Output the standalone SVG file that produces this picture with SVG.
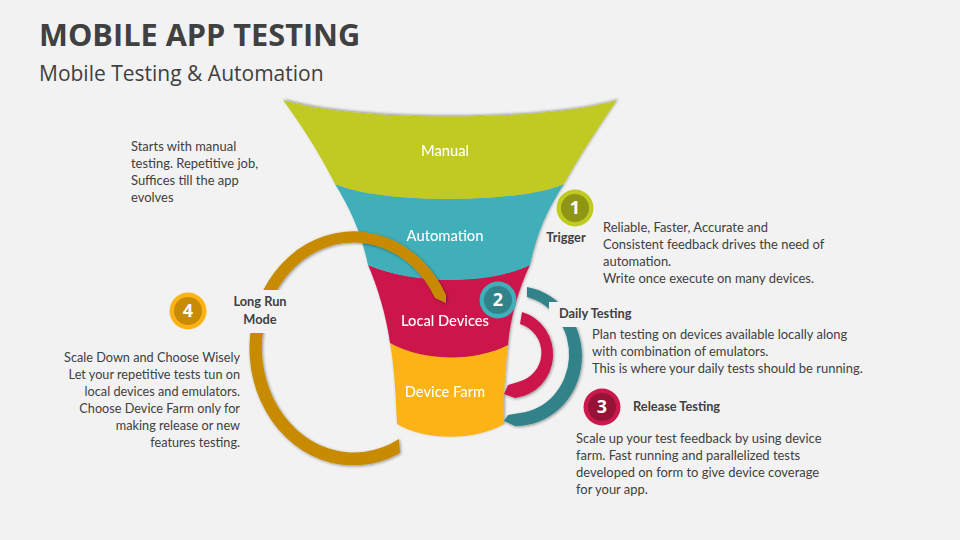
<svg xmlns="http://www.w3.org/2000/svg" width="960" height="540" viewBox="0 0 960 540">
<style>
.t{font-family:"Open Sans","Liberation Sans",sans-serif;fill:#404040}
.b{font-family:Lato,"Liberation Sans",sans-serif;font-size:12.95px;fill:#404040}
.h{font-family:Lato,"Liberation Sans",sans-serif;font-size:12.8px;font-weight:700;fill:#404040}
.f{font-family:Lato,"Liberation Sans",sans-serif;font-size:14.7px;font-weight:500;fill:#fff;text-anchor:middle}
.n{font-family:"Open Sans","Liberation Sans",sans-serif;font-size:18px;font-weight:700;fill:#fff;text-anchor:middle}
.e{text-anchor:end;font-size:12.7px}.m{text-anchor:middle}
</style>
<defs>
<filter id="s" x="-20%" y="-20%" width="140%" height="140%"><feDropShadow dx="1" dy="1" stdDeviation="1.5" flood-color="#000" flood-opacity=".4"/></filter>
<filter id="s2" x="-20%" y="-20%" width="140%" height="140%"><feDropShadow dx="1" dy="-1" stdDeviation="1.5" flood-color="#000" flood-opacity=".4"/></filter>
</defs>
<rect width="960" height="540" fill="#f2f2f2"/>
<text class="t" x="39" y="46" font-size="30.7" font-weight="700">MOBILE APP TESTING</text>
<text class="t" x="39" y="81" font-size="21">Mobile Testing &amp; Automation</text>

<g id="funnel" filter="url(#s2)">
<g id="node-device-farm"><path d="M390,343C425,361 475,361 508,345C505,370 503,400 504,424C475,441 425,441 397,424C396,395 394,365 390,343Z" fill="#fbb316"/><text class="f" x="445" y="397">Device Farm</text></g>
<g id="node-local-devices"><path d="M368,265C415,285 490,284 530,265C518,290 510,320 508,345C475,362 425,362 390,343C386,315 378,288 368,265Z" fill="#cc194b"/><text class="f" x="445" y="326">Local Devices</text></g>
<g id="node-automation"><path d="M335,184C380,204 520,204 564,184C548,208 536,235 530,265C490,285 415,285 368,265C362,235 350,208 335,184Z" fill="#3fafb9"/><text class="f" x="445" y="241">Automation</text></g>
<g id="node-manual"><path d="M283,100C350,122 550,122 617,100C600,125 578,158 564,184C520,204 380,204 335,184C322,158 305,130 283,100Z" fill="#c0ca20"/><text class="f" x="445" y="156">Manual</text></g>
</g>

<g id="connectors" filter="url(#s)">
<path id="arc-gold" d="M400,453A104,117 0 1 1 446,295L446,303L435,298A92,105 0 1 0 399,439Z" fill="#c88b05"/>
<path id="arc-teal" d="M527,287A66,70 0 0 1 515,426L504,421L508,415L520,413A55,59 0 0 0 527,297Z" fill="#32828a"/>
<path id="arc-crimson" d="M522,312A43,44 0 0 1 515,398L504,394L508,385L518,382A30,30 0 0 0 520,324Z" fill="#cc194b"/>
</g>

<g id="label-long-run"><rect x="232" y="290" width="54" height="43" fill="#f2f2f2"/><text class="h m" x="260" y="306">Long Run</text><text class="h m" x="260" y="324">Mode</text></g>
<g id="label-daily"><rect x="549" y="302" width="87" height="25" fill="#f2f2f2"/><text class="h" x="559" y="318">Daily Testing</text></g>

<g id="node-1"><circle cx="575" cy="208" r="18.5" fill="#c0ca20"/><circle cx="575" cy="208" r="14" fill="#8f9615"/><text class="n" x="575" y="214">1</text><text class="h m" x="566" y="242">Trigger</text></g>
<g id="node-2"><circle cx="498" cy="300" r="18.5" fill="#3fafb9"/><circle cx="498" cy="300" r="14" fill="#32828a"/><text class="n" x="498" y="306">2</text></g>
<g id="node-3"><circle cx="602" cy="407" r="18.5" fill="#cc194b"/><circle cx="602" cy="407" r="14" fill="#961236"/><text class="n" x="602" y="413">3</text><text class="h" x="633" y="411">Release Testing</text></g>
<g id="node-4"><circle cx="188" cy="311" r="18.5" fill="#fbb316"/><circle cx="188" cy="311" r="14" fill="#c88b05"/><text class="n" x="188" y="317">4</text></g>

<g id="desc-manual"><text class="b" x="131" y="151">Starts with manual</text><text class="b" x="131" y="168">testing. Repetitive job,</text><text class="b" x="131" y="185">Suffices till the app</text><text class="b" x="131" y="202">evolves</text></g>
<g id="desc-trigger"><text class="b" x="603" y="232">Reliable, Faster, Accurate and</text><text class="b" x="603" y="249">Consistent feedback drives the need of</text><text class="b" x="603" y="266">automation.</text><text class="b" x="603" y="283">Write once execute on many devices.</text></g>
<g id="desc-daily"><text class="b" x="592" y="339">Plan testing on devices available locally along</text><text class="b" x="592" y="356">with combination of emulators.</text><text class="b" x="592" y="373">This is where your daily tests should be running.</text></g>
<g id="desc-release"><text class="b" x="576" y="443">Scale up your test feedback by using device</text><text class="b" x="576" y="460">farm. Fast running and parallelized tests</text><text class="b" x="576" y="477">developed on form to give device coverage</text><text class="b" x="576" y="494">for your app.</text></g>
<g id="desc-long-run"><text class="b e" x="240" y="362">Scale Down and Choose Wisely</text><text class="b e" x="240" y="379">Let your repetitive tests tun on</text><text class="b e" x="240" y="396">local devices and emulators.</text><text class="b e" x="240" y="413">Choose Device Farm only for</text><text class="b e" x="240" y="430">making release or new</text><text class="b e" x="240" y="447">features testing.</text></g>
</svg>
